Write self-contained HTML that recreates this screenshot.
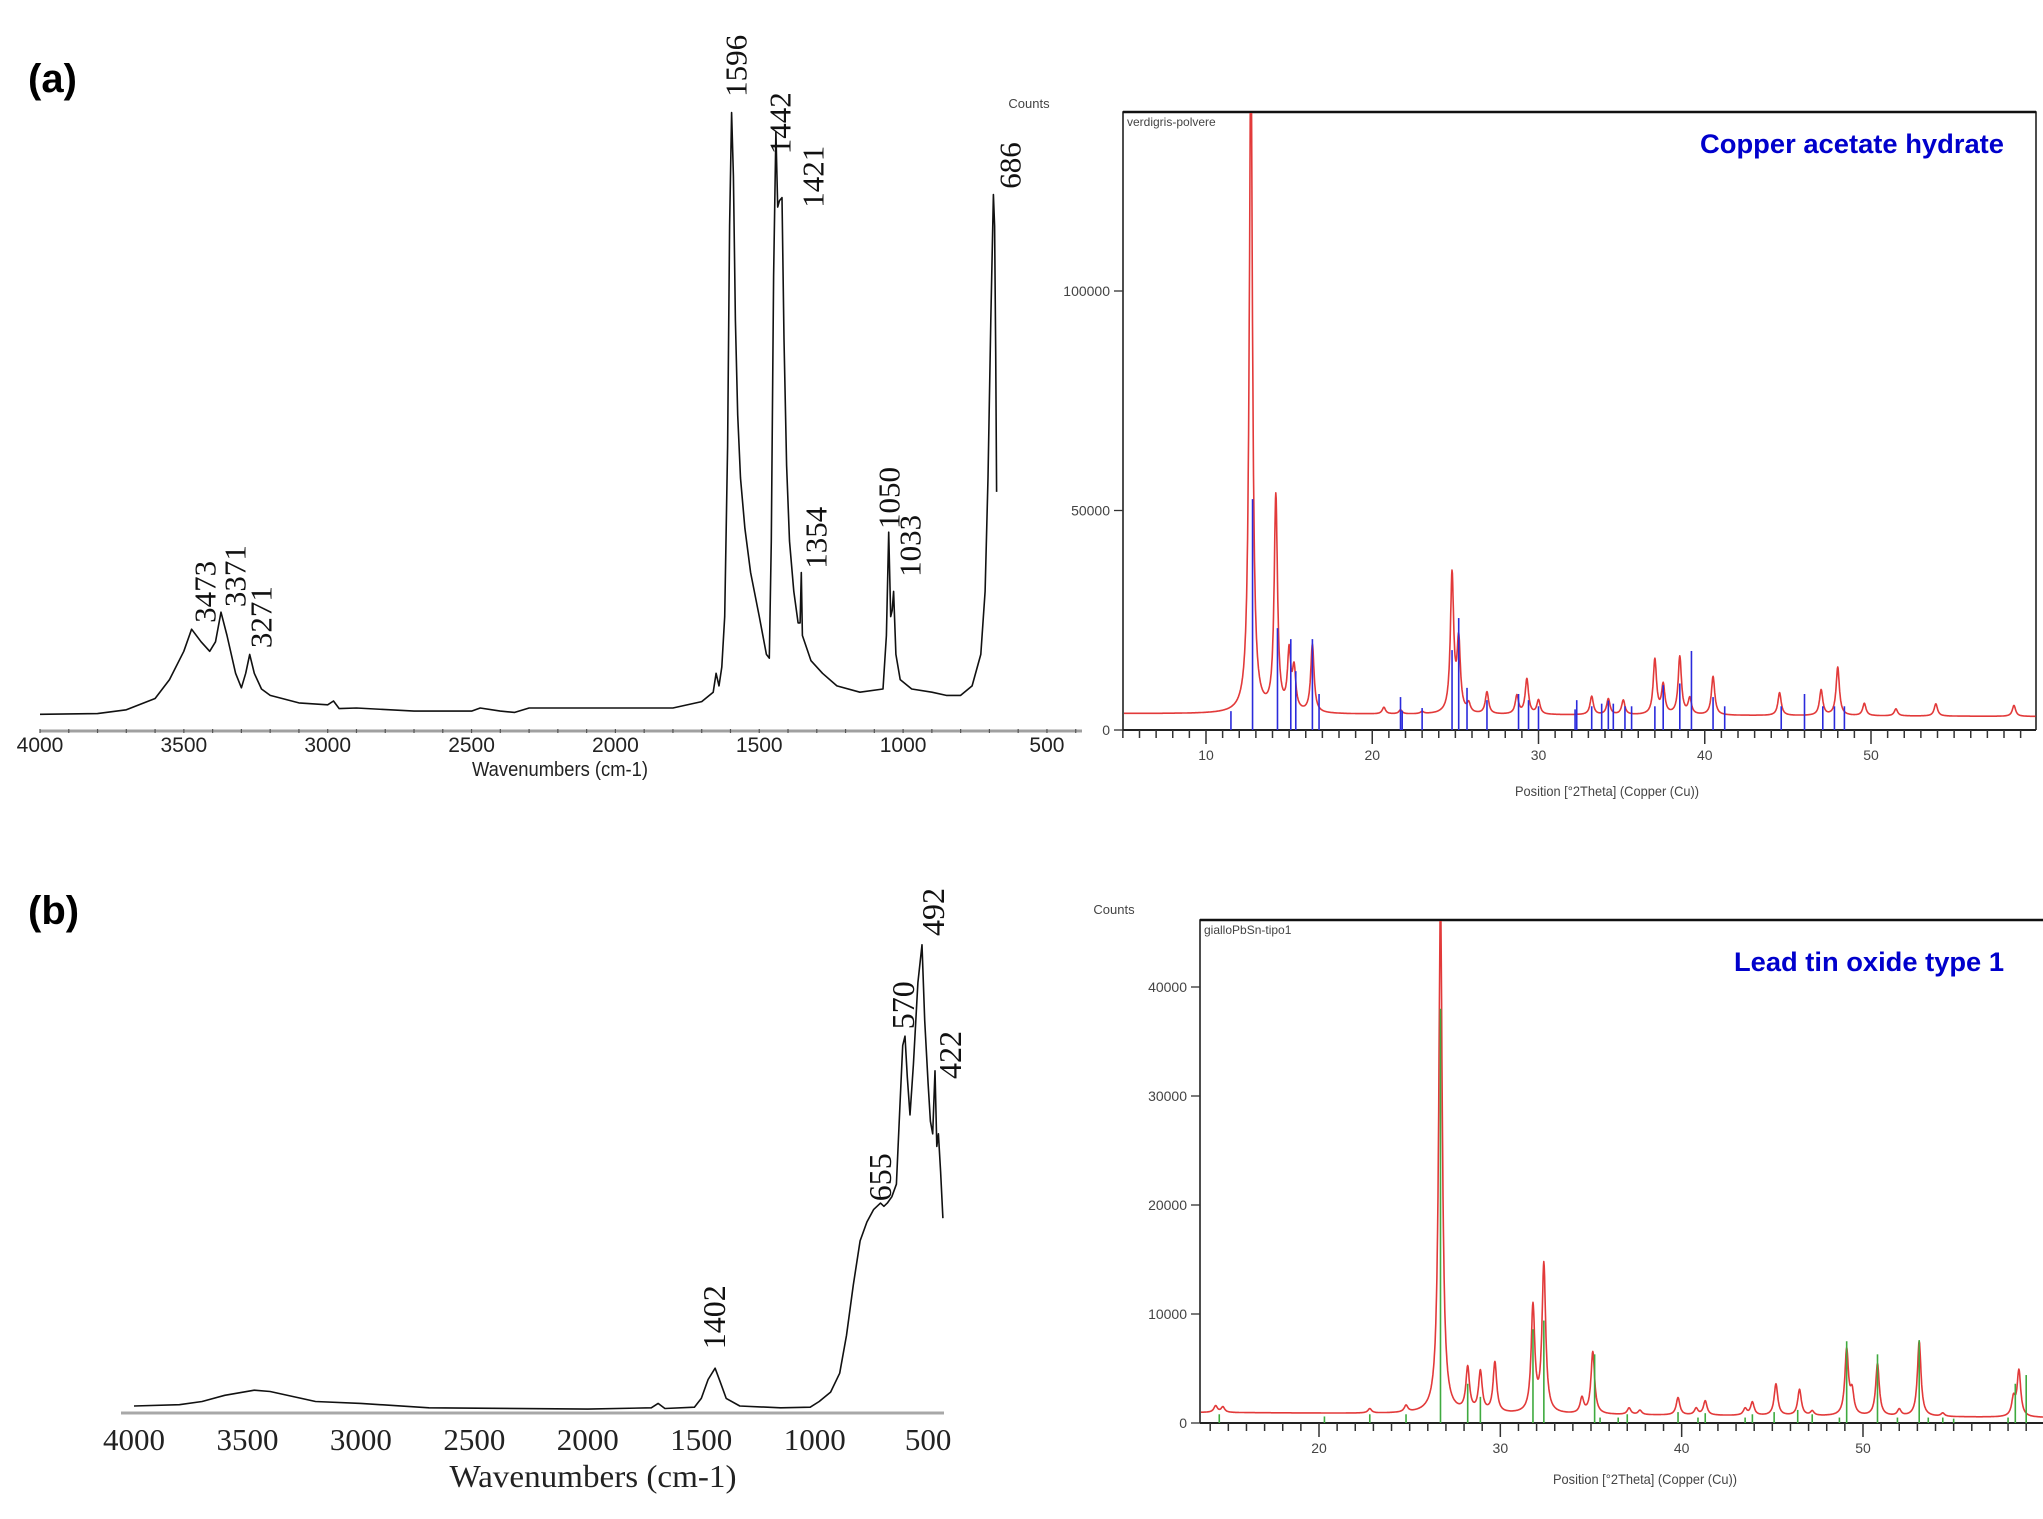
<!DOCTYPE html>
<html><head><meta charset="utf-8"><style>
html,body{margin:0;padding:0;background:#fff;}
svg{display:block;}
</style></head><body>
<svg id="fig" xmlns="http://www.w3.org/2000/svg" width="2043" height="1519" viewBox="0 0 2043 1519">
<rect x="0" y="0" width="2043" height="1519" fill="#fff"/>
<defs>
<clipPath id="clipA"><rect x="1124" y="113" width="912" height="617"/></clipPath>
<clipPath id="clipB"><rect x="1201" y="921" width="842" height="503"/></clipPath>
</defs>
<text x="28" y="92" font-family="Liberation Sans, sans-serif" font-weight="bold" font-size="40">(a)</text>
<text x="28" y="924" font-family="Liberation Sans, sans-serif" font-weight="bold" font-size="40">(b)</text>
</svg>
<script>
// ---------- DATA ----------
// FTIR (a) verdigris
const ftirAWn=[4000,3800,3700,3600,3550,3500,3473,3440,3410,3390,3371,3350,3320,3300,3285,3271,3255,3230,3200,3100,3000,2980,2960,2900,2700,2500,2470,2400,2350,2300,2000,1800,1700,1660,1650,1640,1630,1620,1610,1603,1596,1590,1583,1575,1565,1550,1530,1500,1475,1465,1458,1450,1442,1436,1430,1421,1414,1405,1395,1380,1365,1358,1354,1350,1320,1280,1230,1150,1070,1058,1050,1043,1038,1033,1025,1010,970,900,850,800,760,730,715,705,695,686,682,678,675];
const ftirAVal=[2.5,2.6,3.2,5,8,12.5,16,14,12.5,14,18.7,15,9,6.7,9,12,9,6.5,5.5,4.3,4,4.6,3.4,3.5,3,3,3.5,3,2.8,3.5,3.5,3.5,4.5,6,9,7,10,18,45,80,98,88,65,50,40,32,25,18,12,11.4,30,72,95,83,84,84.5,62,42,30,22,17,17,25,15,11,9,7,6,6.5,15,31.4,18,19,22,12,8,6.5,6,5.5,5.5,7,12,22,40,65,85,80,60,37.8];
const ftirALabels=['3473','3371','3271','1596','1442','1421','1354','1050','1033','686'];
const ftirALabelWn=[3427,3322,3232,1581,1428,1313,1303,1049,976,628];
const ftirALabelV=[17,19.5,13,100.5,91.4,82.9,25.6,31.9,24.3,85.9];
const ftirATicks=[4000,3500,3000,2500,2000,1500,1000,500];

// FTIR (b) lead tin yellow
const ftirBWn=[4000,3800,3700,3600,3470,3400,3300,3200,3000,2700,2000,1720,1690,1660,1530,1500,1470,1439,1415,1390,1330,1150,1020,980,930,890,860,830,800,770,740,710,695,680,660,640,625,612,602,592,580,565,545,527,515,500,490,480,470,462,455,445,435];
const ftirBVal=[0.8,1,1.5,2.5,3.3,3.1,2.3,1.5,1.2,0.5,0.3,0.5,1.2,0.4,0.6,2,5,6.8,4.5,2,0.8,0.5,0.6,1.5,3,6,12,20,27,30,32,33,32.5,33,34,36,48,58,59.5,53,47,55,68,74,62,52,46,44,54,42,44,38,30.6];
const ftirBLabels=['492','570','422','655','1402'];
const ftirBLabelWn=[479,611,404,712,1444];
const ftirBLabelV=[75.4,60.6,52.7,33.3,9.8];
const ftirBTicks=[4000,3500,3000,2500,2000,1500,1000,500];

// XRD (a) copper acetate hydrate
const xrdAPeakPos=[12.7,14.2,15.0,15.3,16.4,20.7,21.7,23.0,24.8,25.2,25.8,26.9,28.7,29.3,30.0,33.2,34.2,35.1,37.0,37.5,38.5,39.1,40.5,44.5,47.0,48.0,49.6,51.5,53.9,58.6];
const xrdAPeakH=[150000,49000,13000,9000,15500,1500,900,500,31500,16000,2000,5000,4200,8000,3200,4200,3600,3300,12500,6600,13200,3600,8800,5200,5800,11000,2800,1600,2800,2500];
const xrdAStickPos=[11.5,12.8,14.3,15.1,15.4,16.4,16.8,21.7,21.8,23.0,24.8,25.2,25.7,26.9,28.8,29.4,30.0,32.2,32.3,33.2,33.8,34.2,34.5,35.2,35.6,37.0,37.5,38.5,39.2,40.5,41.2,44.6,46.0,47.1,47.8,48.4];
const xrdAStickH=[4300,52600,23200,20700,13400,20700,8200,7500,4400,5000,18200,25500,9600,6800,8200,6800,5400,4700,6800,5400,6000,6700,6000,5400,5400,5400,10200,10600,18000,7500,5400,5400,8200,5400,5400,5400];
const xrdAYTicks=[0,50000,100000];
const xrdAXTicks=[10,20,30,40,50];

// XRD (b) lead tin oxide type 1
const xrdBPeakPos=[14.3,14.7,22.8,24.8,26.7,28.2,28.9,29.7,31.8,32.4,34.5,35.1,37.1,37.7,39.8,40.8,41.3,43.5,43.9,45.2,46.5,47.2,49.1,49.4,50.8,52.0,53.1,54.4,58.3,58.6];
const xrdBPeakH=[600,500,400,600,47000,4000,3700,4600,9700,13600,1400,5700,600,400,1600,600,1300,600,1200,2900,2400,400,6000,2000,4800,600,6900,300,1600,4200];
const xrdBStickPos=[14.5,20.3,22.8,24.8,26.7,28.2,28.9,31.8,32.4,35.2,35.5,36.5,37.0,39.8,40.9,41.3,43.5,43.9,45.1,46.4,47.2,48.7,49.1,50.8,51.9,53.1,53.6,54.4,55.0,58.0,58.4,59.0];
const xrdBStickH=[800,600,800,800,38000,3600,2400,8600,9400,6300,500,500,800,1000,500,900,500,800,1000,1200,800,500,7500,6300,500,7600,500,500,400,500,3600,4400];
const xrdBYTicks=[0,10000,20000,30000,40000];
const xrdBXTicks=[20,30,40,50];

// ---------- DRAWING ----------
const NS='http://www.w3.org/2000/svg';
const svg=document.getElementById('fig');
function mk(tag,attrs,parent){const e=document.createElementNS(NS,tag);for(const k in attrs)e.setAttribute(k,attrs[k]);(parent||svg).appendChild(e);return e;}
function txt(str,attrs,parent){const e=mk('text',attrs,parent);e.textContent=str;return e;}

const xA=w=>40+(4000-w)*0.2877, yA=v=>730-v*6.3;
const xB=w=>134+(4000-w)*0.2269, yB=v=>1411-v*6.3;
const xXA=t=>1206+(t-10)*16.625, yXA=c=>730-c*0.00439;
const xXB=t=>1319+(t-20)*18.133, yXB=c=>1423-c*0.0109;

// ===== FTIR A =====
const gFA=mk('g',{});


let ax=mk('line',{x1:40,y1:731,x2:1082,y2:731,stroke:'#a0a0a0','stroke-width':3},gFA);


for(let w=4000;w>=400;w-=100){
  const t=mk('line',{x1:xA(w),y1:729,x2:xA(w),y2:733,stroke:'#555','stroke-width':1.2},gFA);
  
  
}
ftirATicks.forEach(w=>{
  const t=txt(String(w),{x:xA(w),y:752,'text-anchor':'middle','font-family':'Liberation Sans, sans-serif','font-size':21,fill:'#222'},gFA);
  
  
});
let ttl=txt('Wavenumbers (cm-1)',{x:560,y:776,'text-anchor':'middle','font-family':'Liberation Sans, sans-serif','font-size':20,fill:'#222',textLength:176,lengthAdjust:'spacingAndGlyphs'},gFA);


let ptsA=ftirAWn.map((w,i)=>xA(w).toFixed(1)+','+yA(ftirAVal[i]).toFixed(1)).join(' ');
let lnA=mk('polyline',{points:ptsA,fill:'none',stroke:'#111','stroke-width':1.6,'stroke-linejoin':'round'},gFA);


ftirALabels.forEach((s,i)=>{
  const x=xA(ftirALabelWn[i]), y=yA(ftirALabelV[i]);
  const t=txt(s,{transform:`translate(${x.toFixed(1)},${y.toFixed(1)}) rotate(-90)`,'dominant-baseline':'central','font-family':'Liberation Serif, serif','font-size':31,fill:'#111'},gFA);
  
  
});

// ===== FTIR B =====
const gFB=mk('g',{});


ax=mk('line',{x1:121,y1:1413,x2:944,y2:1413,stroke:'#a8a8a8','stroke-width':3},gFB);


ftirBTicks.forEach(w=>{
  const t=txt(String(w),{x:xB(w),y:1450,'text-anchor':'middle','font-family':'Liberation Serif, serif','font-size':31,fill:'#222'},gFB);
  
  
});
ttl=txt('Wavenumbers (cm-1)',{x:593,y:1487,'text-anchor':'middle','font-family':'Liberation Serif, serif','font-size':32,fill:'#222',textLength:287,lengthAdjust:'spacingAndGlyphs'},gFB);


let ptsB=ftirBWn.map((w,i)=>xB(w).toFixed(1)+','+yB(ftirBVal[i]).toFixed(1)).join(' ');
let lnB=mk('polyline',{points:ptsB,fill:'none',stroke:'#111','stroke-width':1.6,'stroke-linejoin':'round'},gFB);


ftirBLabels.forEach((s,i)=>{
  const x=xB(ftirBLabelWn[i]), y=yB(ftirBLabelV[i]);
  const t=txt(s,{transform:`translate(${x.toFixed(1)},${y.toFixed(1)}) rotate(-90)`,'dominant-baseline':'central','font-family':'Liberation Serif, serif','font-size':32,fill:'#111'},gFB);
  
  
});

// ===== XRD helper =====
function xrd(cfg){
  const g=mk('g',{});
  
  
  const {L,T,R,B,xf,yf}=cfg;
  const fr=mk('path',{d:`M${L},${B} L${L},${T} L${R},${T} L${R},${B}`,fill:'none',stroke:'#222','stroke-width':1.6},g);
  
  
  const top=mk('line',{x1:L,y1:T,x2:R,y2:T,stroke:'#111','stroke-width':2.6},g);
  
  
  const xa=mk('line',{x1:L,y1:B,x2:R,y2:B,stroke:'#222','stroke-width':2},g);
  
  
  for(let d=Math.ceil(cfg.xmin);d<=cfg.xmax;d++){
    const major=cfg.xTicks.includes(d);
    const t=mk('line',{x1:xf(d),y1:B,x2:xf(d),y2:B+(major?14:8),stroke:'#333','stroke-width':1.5},g);
    
    
  }
  cfg.xTicks.forEach(d=>{
    const t=txt(String(d),{x:xf(d),y:B+30,'text-anchor':'middle','font-family':'Liberation Sans, sans-serif','font-size':14,fill:'#444'},g);
    
    
  });
  cfg.yTicks.forEach(c=>{
    const tk=mk('line',{x1:L-9,y1:yf(c),x2:L,y2:yf(c),stroke:'#333','stroke-width':1.3},g);
    
    
    const t=txt(String(c),{x:L-13,y:yf(c)+5,'text-anchor':'end','font-family':'Liberation Sans, sans-serif','font-size':14,fill:'#444'},g);
    
    
  });
  let t=txt('Counts',{x:cfg.countsX,y:cfg.countsY,'text-anchor':'middle','font-family':'Liberation Sans, sans-serif','font-size':13,fill:'#444'},g);
  
  
  t=txt('Position [°2Theta] (Copper (Cu))',{x:cfg.titleX,y:cfg.titleY,'text-anchor':'middle','font-family':'Liberation Sans, sans-serif','font-size':14,fill:'#444',textLength:184,lengthAdjust:'spacingAndGlyphs'},g);
  
  
  t=txt(cfg.sample,{x:L+4,y:T+14,'font-family':'Liberation Sans, sans-serif','font-size':12,fill:'#444'},g);
  
  
  t=txt(cfg.phase,{x:2004,y:cfg.phaseY,'text-anchor':'end','font-family':'Liberation Sans, sans-serif','font-weight':'bold','font-size':27,fill:'#0000cc',textLength:cfg.phaseW,lengthAdjust:'spacingAndGlyphs'},g);
  
  
  const clip=mk('g',{'clip-path':`url(#${cfg.clip})`},g);
  
  
  const pts=[];
  for(let x=cfg.xmin;x<=cfg.xmax+0.001;x+=0.02){
    let c=cfg.base(x);
    for(let i=0;i<cfg.peakPos.length;i++){const d=(x-cfg.peakPos[i])/cfg.w;c+=cfg.peakH[i]/(1+d*d);}
    pts.push(xf(x).toFixed(1)+','+yf(c).toFixed(1));
  }
  const cv=mk('polyline',{points:pts.join(' '),fill:'none',stroke:'#e23a3a','stroke-width':1.6,'stroke-linejoin':'round'},clip);
  
  
  cfg.stickPos.forEach((p,i)=>{
    const s=mk('line',{x1:xf(p),y1:B,x2:xf(p),y2:yf(cfg.stickH[i]),stroke:cfg.stickColor,'stroke-width':1.6},clip);
    
    
  });
}

xrd({name:'xrd-a',L:1123,T:112,R:2036,B:730,xf:xXA,yf:yXA,xmin:5,xmax:59.9,
  xTicks:xrdAXTicks,yTicks:xrdAYTicks,countsX:1029,countsY:108,titleX:1607,titleY:796,
  sample:'verdigris-polvere',phase:'Copper acetate hydrate',phaseY:153,phaseW:304,clip:'clipA',
  base:x=>3800-x*12,peakPos:xrdAPeakPos,peakH:xrdAPeakH,w:0.12,
  stickPos:xrdAStickPos,stickH:xrdAStickH,stickColor:'#2b2bdc'});
xrd({name:'xrd-b',L:1200,T:920,R:2046,B:1423,xf:xXB,yf:yXB,xmin:13.4,xmax:60,
  xTicks:xrdBXTicks,yTicks:xrdBYTicks,countsX:1114,countsY:914,titleX:1645,titleY:1484,
  sample:'gialloPbSn-tipo1',phase:'Lead tin oxide type 1',phaseY:971,phaseW:270,clip:'clipB',
  base:x=>1100-x*10,peakPos:xrdBPeakPos,peakH:xrdBPeakH,w:0.12,
  stickPos:xrdBStickPos,stickH:xrdBStickH,stickColor:'#3faa3f'});
</script>
</body></html>
